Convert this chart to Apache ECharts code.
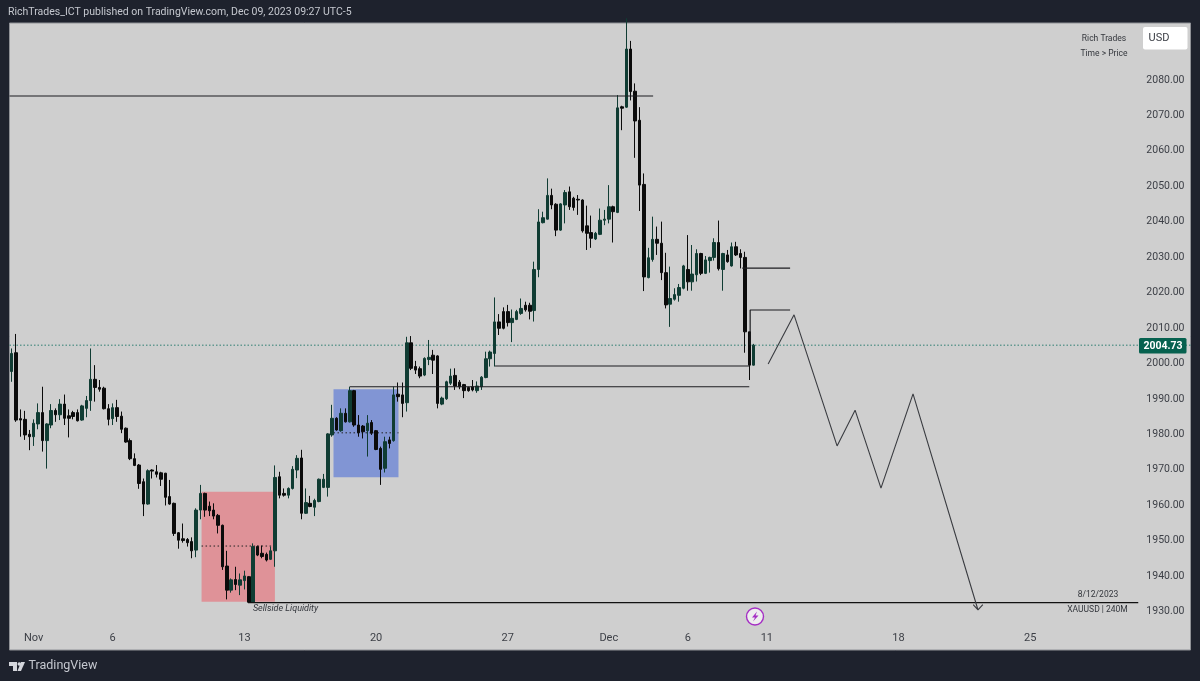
<!DOCTYPE html>
<html>
<head>
<meta charset="utf-8">
<style>html,body{margin:0;padding:0;background:#1e222d;}#c{width:1200px;height:681px;}</style>
<script src="https://cdn.jsdelivr.net/npm/echarts@6/dist/echarts.min.js"></script>
</head>
<body>
<div id="c"></div>
<script>
// 4-hour XAUUSD candles
const opens = [1997.3,2002.6,1984.0,1983.8,1979.6,1978.9,1982.5,1985.7,1977.8,1982.2,1986.3,1985.1,1988.1,1984.8,1985.7,1985.7,1983.6,1986.9,1989.1,1995.1,
1992.8,1992.6,1986.8,1984.0,1987.1,1984.7,1981.3,1977.8,1972.7,1970.9,1966.2,1959.9,1969.5,1969.0,1968.7,1968.6,1962.0,1960.1,1951.8,1950.1,
1949.9,1949.3,1946.9,1958.2,1962.9,1959.3,1958.2,1956.7,1953.9,1942.4,1935.6,1938.6,1937.0,1938.3,1939.4,1932.2,1947.9,1946.0,1945.7,1944.3,
1946.7,1967.6,1962.9,1962.4,1964.3,1969.5,1972.9,1957.3,1960.1,1959.0,1960.6,1964.6,1964.6,1979.4,1984.1,1980.6,1985.5,1983.1,1991.9,1982.2,
1981.9,1980.6,1982.9,1980.6,1975.6,1970.0,1978.0,1977.8,1990.9,1990.7,1988.5,2005.4,1998.7,1998.1,1996.3,2000.7,2001.9,2001.7,1988.1,1989.6,
1994.0,1996.2,1994.3,1993.6,1992.8,1993.0,1991.9,1993.0,1995.6,2000.9,2002.4,2011.3,2014.2,2014.2,2011.1,2012.0,2013.7,2016.0,2016.0,2014.5,
2026.1,2039.3,2040.3,2047.0,2044.5,2037.2,2044.3,2048.0,2046.2,2045.9,2045.7,2038.4,2036.5,2034.7,2036.0,2040.0,2040.3,2043.8,2042.2,2072.0,
2071.9,2088.3,2076.4,2068.2,2050.1,2023.8,2028.9,2034.6,2033.5,2025.2,2016.3,2017.7,2018.8,2020.8,2026.1,2022.6,2024.6,2030.6,2025.0,2028.6,
2029.5,2033.7,2026.1,2030.2,2027.1,2032.5,2030.6,2029.5,2008.5,1999.1];
const closes = [2002.4,1983.6,1983.6,1979.4,1978.9,1982.7,1985.7,1977.8,1982.5,1986.3,1985.1,1988.1,1984.1,1984.1,1984.6,1983.4,1987.6,1989.1,1995.1,1992.8,
1992.3,1986.8,1983.8,1987.1,1984.6,1981.0,1977.4,1972.7,1970.8,1965.7,1959.9,1969.3,1969.2,1968.3,1966.9,1961.8,1959.9,1951.6,1949.7,1949.6,
1949.0,1946.7,1958.2,1962.9,1958.2,1958.0,1956.5,1953.9,1942.2,1935.6,1938.5,1937.2,1938.5,1939.6,1932.2,1947.9,1945.5,1945.1,1944.1,1946.7,
1967.4,1962.4,1962.4,1964.3,1969.7,1972.8,1957.3,1960.3,1959.2,1960.9,1966.9,1966.9,1979.7,1984.1,1980.8,1985.5,1983.1,1991.9,1982.2,1980.0,
1980.3,1982.7,1979.9,1975.3,1969.7,1977.5,1977.0,1990.7,1990.2,1988.3,2005.4,1998.2,1997.7,1996.0,2001.0,2001.3,2000.5,1988.3,1989.8,1994.4,
1996.0,1993.2,1993.0,1991.9,1991.9,1992.1,1993.2,1995.7,2000.9,2002.8,2011.3,2009.5,2009.5,2011.1,2012.3,2014.2,2015.1,2014.7,2014.3,2026.1,
2039.5,2040.7,2047.0,2044.3,2037.2,2044.6,2047.8,2043.8,2043.6,2045.7,2037.0,2036.3,2034.9,2036.3,2040.0,2040.3,2043.8,2042.4,2071.7,2071.6,
2088.3,2076.3,2068.0,2049.9,2024.0,2029.4,2034.6,2033.5,2025.2,2016.1,2017.9,2019.0,2021.0,2027.1,2022.6,2024.8,2030.6,2025.0,2028.8,2029.5,
2033.7,2026.3,2030.6,2028.3,2032.5,2030.2,2029.5,2008.5,1999.1,2004.73];
const lows = [1994.4,1983.1,1978.9,1978.0,1975.1,1976.3,1981.0,1974.7,1969.9,1981.3,1983.1,1983.6,1982.2,1978.7,1983.8,1983.2,1983.4,1984.4,1986.2,1988.8,
1991.6,1986.6,1982.1,1982.2,1983.1,1979.9,1977.2,1972.3,1970.6,1964.2,1956.5,1959.7,1967.1,1967.4,1965.0,1959.5,1959.7,1950.9,1947.3,1949.0,
1947.9,1944.6,1944.9,1955.6,1956.3,1956.5,1955.6,1951.6,1941.3,1933.0,1934.9,1935.6,1934.2,1935.8,1932.1,1932.1,1945.2,1944.6,1943.7,1944.1,
1942.2,1961.5,1962.0,1961.5,1964.0,1967.2,1955.6,1957.1,1959.0,1956.5,1960.4,1964.4,1962.0,1978.9,1980.6,1980.3,1982.9,1982.9,1981.7,1978.9,
1978.4,1973.3,1979.4,1975.1,1965.3,1968.8,1975.6,1977.5,1988.8,1984.4,1986.0,1997.7,1996.6,1995.4,1996.0,1999.1,1996.6,1986.9,1987.8,1989.3,
1993.5,1992.1,1992.3,1989.8,1991.6,1991.7,1991.3,1992.1,1995.4,1998.7,1998.7,2007.6,2009.2,2010.0,2005.6,2011.8,2013.3,2014.2,2012.0,2011.4,
2023.9,2039.1,2040.2,2043.1,2035.5,2037.0,2039.1,2042.9,2042.7,2041.5,2036.5,2031.6,2032.2,2034.4,2035.8,2038.6,2039.1,2033.7,2042.0,2065.4,
2071.7,2073.8,2057.6,2042.6,2020.0,2023.6,2028.3,2030.2,2023.1,2015.1,2009.9,2017.3,2017.0,2020.5,2020.1,2020.1,2022.7,2024.5,2024.8,2025.2,
2028.6,2025.8,2020.1,2028.0,2026.9,2029.9,2026.4,2002.6,1994.9,1999.0];
const highs = [2003.8,2007.9,1986.6,1986.2,1980.8,1983.8,1988.3,1993.0,1982.7,1988.1,1986.9,1989.5,1990.8,1986.6,1986.2,1986.6,1987.9,1990.4,2003.8,1999.1,
1994.9,1993.0,1988.1,1988.3,1989.3,1986.0,1981.5,1978.4,1974.2,1971.2,1967.1,1969.7,1969.7,1970.9,1969.0,1968.7,1966.7,1960.3,1952.0,1954.4,
1950.3,1950.5,1958.7,1965.3,1963.1,1960.6,1960.1,1957.1,1954.1,1946.7,1938.9,1942.2,1940.3,1941.1,1939.6,1948.8,1948.2,1948.2,1946.2,1947.9,
1970.8,1969.0,1964.3,1964.6,1970.6,1973.7,1975.2,1964.3,1962.2,1961.4,1967.1,1968.4,1979.9,1987.9,1984.4,1986.9,1986.9,1993.0,1992.1,1985.0,
1982.2,1985.0,1983.6,1980.8,1976.1,1978.9,1978.9,1993.0,1994.2,1994.2,2007.1,2007.3,2000.3,1998.7,2001.3,2006.2,2003.4,2001.9,1990.2,1994.7,
1998.1,1998.2,1994.9,1993.8,1993.0,1994.9,1994.5,1996.0,2002.9,2003.2,2018.2,2013.5,2015.4,2016.1,2014.8,2014.7,2017.9,2017.0,2016.7,2028.3,
2043.1,2042.4,2051.8,2048.9,2044.8,2044.8,2048.5,2049.5,2046.6,2047.1,2045.9,2044.1,2041.3,2036.7,2043.3,2042.9,2049.9,2044.1,2075.3,2072.3,
2097.0,2090.6,2078.6,2071.9,2053.2,2032.2,2041.0,2038.2,2039.6,2030.8,2026.9,2020.8,2022.0,2027.4,2035.8,2033.0,2031.8,2030.8,2029.9,2029.7,
2034.9,2039.9,2030.8,2031.6,2033.7,2033.9,2031.8,2031.1,2008.5,2005.1];

const slotCount = 269;                      // candles plus the empty future bars
const dateTickSlots  = [5, 23, 53, 83, 113, 136, 154, 172, 202, 232];
const dateTickLabels = ['Nov', '6', '13', '20', '27', 'Dec', '6', '11', '18', '25'];
const priceTicks = [1930,1940,1950,1960,1970,1980,1990,2000,2010,2020,2030,2040,2050,2060,2070,2080];

const lastPrice = 2004.73;
// drawings, as [bar slot, price]
const forecastPath = [[172.3,1999.4],[178.2,2013.3],[188.0,1976.3],[192.1,1986.4],[198.0,1964.4],[205.3,1991.0],[220.1,1930.0],[219.0,1931.5],[220.1,1930.0],[221.2,1931.5]];
const levelHigh      = [[-0.5,2075.05],[146.1,2075.05]];
const levelClose     = [[166.4,2026.5],[177.3,2026.5]];
const levelGap       = [[168.2,2004.7],[168.2,2014.66],[177.3,2014.66]];
const levelLow1      = [[110.1,1998.86],[168.1,1998.86]];
const levelLow2      = [[77.0,1993.0],[168.0,1993.0]];
const levelSellside  = [[53.8,1932.1],[256.6,1932.1]];
const redBox  = {x0:43.25, x1:59.95, y0:1932.3,  y1:1963.4,  mid:1948.05};
const blueBox = {x0:73.3,  x1:88.1,  y0:1967.45, y1:1992.3,  mid:1980.0};

const slots = Array.from({length: slotCount}, (_, i) => String(i));
const candles = opens.map((o, i) => [o, closes[i], lows[i], highs[i]]);

const overlay = (data, extra) => Object.assign({
  type:'line', xAxisIndex:1, yAxisIndex:0, data, silent:true, symbol:'none', z:6,
  lineStyle:{color:'#1c1d20', width:1.2}
}, extra || {});

const boxSeries = (b, color) => overlay([[b.x0,b.mid],[b.x1,b.mid]], {
  z:2,
  lineStyle:{color:'#222', width:1, type:[1.5,2.5]},
  markArea:{silent:true, z:1, itemStyle:{color, opacity:1},
    data:[[{xAxis:b.x0, yAxis:b.y0},{xAxis:b.x1, yAxis:b.y1}]]}
});

const chart = echarts.init(document.getElementById('c'), null, {renderer:'canvas', width:1200, height:681});
const txt = (x, y, text, style) => ({type:'text', x, y, silent:true, z:20,
  style:Object.assign({text, fontFamily:'Roboto', fontSize:11, fill:'#3a3d44', textVerticalAlign:'middle'}, style || {})});

chart.setOption({
  animation:false,
  backgroundColor:'#1e222d',
  grid:{left:9.5, top:23, width:1181, height:627, show:true, backgroundColor:'#cfcfcf', borderColor:'#8f9196', borderWidth:1},
  xAxis:[
    {type:'category', data:slots, boundaryGap:true, position:'bottom',
     axisLine:{show:false}, axisTick:{show:false}, splitLine:{show:false},
     axisLabel:{inside:true, margin:6, color:'#3c3f46', fontFamily:'Roboto', fontSize:11, hideOverlap:false,
       interval:(i) => dateTickSlots.includes(i),
       formatter:(v, i) => { const k = dateTickSlots.indexOf(+v); return k < 0 ? '' : dateTickLabels[k]; }}},
    {type:'value', min:-0.5, max:slotCount-0.5, show:false, position:'bottom', splitLine:{show:false}}
  ],
  yAxis:[{type:'value', position:'right', min:1918.71, max:2095.65, scale:true,
     axisLine:{show:false}, axisTick:{show:false}, splitLine:{show:false},
     axisLabel:{inside:true, margin:6, align:'right', color:'#3c3f46', fontFamily:'Roboto', fontSize:10.5,
       customValues:priceTicks, formatter:(v) => '{p|' + v.toFixed(2) + '}',
       rich:{p:{fontFamily:'Roboto', fontSize:10.5, color:'#3c3f46', padding:[3,0,0,0]}}}}],
  series:[
    boxSeries(redBox,'#df9298'),
    boxSeries(blueBox,'#8195d4'),
    overlay([[-0.5,lastPrice],[270,lastPrice]], {z:2, lineStyle:{color:'#2f7f72', width:1, type:[1.5,2]}}),
    {type:'candlestick', xAxisIndex:0, yAxisIndex:0, data:candles, barWidth:3, z:4, silent:true,
     itemStyle:{color:'#103c33', color0:'#0b0b0b', borderColor:'#103c33', borderColor0:'#0b0b0b', borderWidth:1}},
    overlay(levelHigh), overlay(levelClose), overlay(levelGap),
    overlay(levelLow1), overlay(levelLow2), overlay(levelSellside,{lineStyle:{color:'#111',width:1.2}}),
    overlay(forecastPath,{lineStyle:{color:'#3a3c41',width:1.1}})
  ],
  graphic:[
    txt(8, 12.5, 'RichTrades_ICT published on TradingView.com, Dec 09, 2023 09:27 UTC-5', {fill:'#c5c8cf', fontSize:10.5}),
    txt(1104, 39, 'Rich Trades', {textAlign:'center', fontSize:8.5, fill:'#33363c'}),
    txt(1104, 54, 'Time > Price', {textAlign:'center', fontSize:8.5, fill:'#33363c'}),
    {type:'rect', silent:true, z:19, shape:{x:1143, y:27, width:44.5, height:22.5, r:2}, style:{fill:'#fff'}},
    txt(1159, 38.5, 'USD', {textAlign:'center', fontSize:11, fill:'#3a3d44'}),
    {type:'rect', silent:true, z:19, shape:{x:1139, y:338, width:47.5, height:15.5, r:1.5}, style:{fill:'#06614f'}},
    txt(1163, 346, '2004.73', {textAlign:'center', fontSize:10.5, fontWeight:'bold', fill:'#fff'}),
    txt(285.5, 608.5, 'Sellside Liquidity', {textAlign:'center', fontSize:9, fontStyle:'italic', fill:'#33363c'}),
    txt(1098, 595, '8/12/2023', {textAlign:'center', fontSize:8.5, fill:'#33363c'}),
    txt(1097.5, 610, 'XAUUSD | 240M', {textAlign:'center', fontSize:8.5, fill:'#33363c'}),
    {type:'circle', silent:true, z:19, shape:{cx:755, cy:616.5, r:8.5}, style:{fill:'#eee', stroke:'#a52fc4', lineWidth:1.4}},
    {type:'polygon', silent:true, z:20, shape:{points:[[757,611.5],[752,617.5],[755,617.5],[753,621.5],[758.5,615.5],[755.5,615.5]]}, style:{fill:'#a52fc4'}},
    {type:'polygon', silent:true, z:20, shape:{points:[[9,662],[17,662],[17,671],[13,671],[13,666],[9,666]]}, style:{fill:'#d4d6dc'}},
    {type:'circle', silent:true, z:20, shape:{cx:19.3, cy:664, r:1.8}, style:{fill:'#d4d6dc'}},
    {type:'polygon', silent:true, z:20, shape:{points:[[21,662],[25,662],[21,671],[17.5,671]]}, style:{fill:'#d4d6dc'}},
    txt(28.5, 666, 'TradingView', {fill:'#c5c8cf', fontSize:12.5})
  ]
});
</script>
</body>
</html>
